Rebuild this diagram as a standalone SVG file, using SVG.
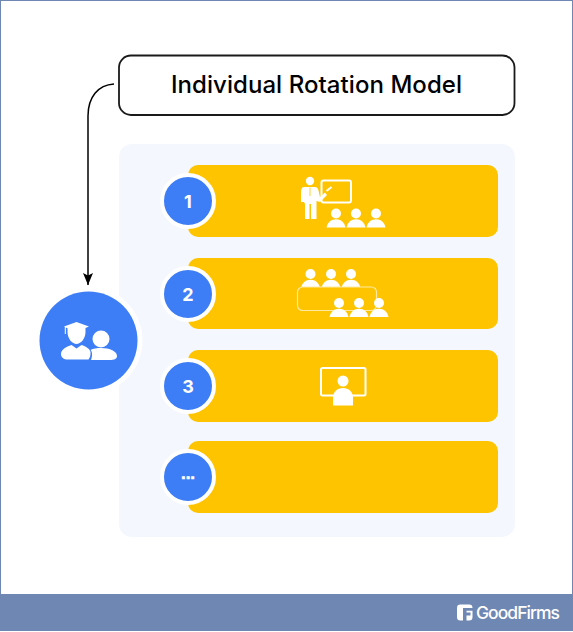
<svg xmlns="http://www.w3.org/2000/svg" width="573" height="632" viewBox="0 0 573 632">
<style>
.bar{fill:#ffc400}
.badge{fill:#3d7df5;stroke:#fff;stroke-width:4}
.num{font-family:"Inter","Liberation Sans",sans-serif;font-weight:700;font-size:18px;fill:#fff;text-anchor:middle}
.w{fill:#fff}
.line{fill:none;stroke:#fff;stroke-width:2}
</style>
<defs>
<marker id="arrow" markerWidth="12" markerHeight="12" refX="12" refY="5.500" orient="auto" markerUnits="userSpaceOnUse"><path d="M0 0.500L12 5.500L0 10.500L2.500 5.500Z" fill="#000"/></marker>
<g id="person"><circle cx="0" cy="-9" r="5" class="w"/><path class="w" d="M-9.500 5C-8.500 0 -5 -3.200 0 -3.200C5 -3.200 8.500 0 9.500 5Z"/></g>
</defs>
<rect x="0" y="0" width="573" height="632" fill="#fff"/>
<rect x="0.500" y="0.500" width="572" height="600" fill="#fff" stroke="#6f88b3"/>
<rect x="119" y="144" width="396" height="393" rx="13" fill="#f4f7fd"/>
<g id="footer"><rect x="0" y="594" width="573" height="37" fill="#6f88b3"/>
<path class="w" fill-rule="evenodd" d="M460.500 604.500H469C471.500 604.500 472.500 605.500 472.500 608V617C472.500 619.500 471.500 620.500 469 620.500H460.500C458 620.500 457 619.500 457 617V608C457 605.500 458 604.500 460.500 604.500ZM463 608V620.500H466.500V615.500H470.500V612.500H466.500V610.800H472.500V608Z"/>
<text x="476" y="618.500" font-family="Inter,'Liberation Sans',sans-serif" font-size="17.500" font-weight="500" fill="#fff" textLength="84">GoodFirms</text></g>
<g id="connectors"><path d="M114 84C98 85 88 97 88 116V285" fill="none" stroke="#000" stroke-width="1.500" marker-end="url(#arrow)"/></g>
<g id="title"><rect x="119" y="55.500" width="395.500" height="59.500" rx="12" fill="#fff" stroke="#1a1a1a" stroke-width="1.800"/>
<text x="171" y="92.500" font-family="Inter,'Liberation Sans',sans-serif" font-size="24" font-weight="500" fill="#000" textLength="291">Individual Rotation Model</text></g>
<g id="hub"><circle cx="88.500" cy="340.500" r="54" fill="#fff"/><circle cx="88.500" cy="340.500" r="49" fill="#3d7df5"/>
<circle class="w" cx="101" cy="339" r="8.500"/><path class="w" d="M91 360C92.500 356 92.500 352 90.500 350C93 348.500 97 348 101 348C110 348 117 351.500 117 356C117 359 114 360 110 360Z"/>
<path class="w" d="M76.500 322L89 326.500L85.500 328V332C85.500 339 80.500 344 76.500 344C72.500 344 67.500 339 67.500 332V328.300L65.800 327.500V334H64.800V327L64 326.500Z"/>
<path class="w" d="M61 354C61 350 66 346.500 71.500 345L76.500 348.500L81.500 345C86 346.500 90 349 90.500 352C90.800 355 90 357.500 88.500 359.500H68C63.500 359.500 61 357.500 61 354Z"/></g>
<g id="step1"><rect class="bar" x="188" y="165" width="310" height="72" rx="10"/><circle class="badge" cx="188" cy="201" r="26"/><text class="num" x="188" y="207.500">1</text>
<circle class="w" cx="310" cy="181" r="4.200"/><path class="w" d="M304 187H315C317 187 318 188.500 318.500 190.500L320 197L325 192.500L327 195L320 202L316.500 201V219H311V204H309.500V219H305V204L304 202H301V192C301 189 302 187 304 187Z"/>
<path d="M310 187.500V196" stroke="#ffc400" stroke-width="0.800"/>
<rect class="line" x="321.500" y="180.500" width="29.500" height="22" rx="2"/><path class="line" d="M326.500 191L331.500 187"/>
<use href="#person" x="336" y="222.500"/><use href="#person" x="356" y="222.500"/><use href="#person" x="376" y="222.500"/></g>
<g id="step2"><rect class="bar" x="188" y="258" width="310" height="71" rx="10"/><circle class="badge" cx="188" cy="294" r="26"/><text class="num" x="188" y="300.500">2</text>
<use href="#person" x="310.500" y="283"/><use href="#person" x="331" y="283"/><use href="#person" x="351" y="283"/>
<rect x="297.500" y="287" width="79" height="23.500" rx="5" fill="#ffc400" stroke="#ffe9a0" stroke-width="1.200"/>
<use href="#person" x="339" y="312"/><use href="#person" x="359" y="312"/><use href="#person" x="379" y="312"/></g>
<g id="step3"><rect class="bar" x="188" y="350" width="310" height="72" rx="10"/><circle class="badge" cx="188" cy="386" r="26"/><text class="num" x="188" y="392.500">3</text>
<path class="line" d="M334 395.500H322.500C321.500 395.500 321 395 321 394V369.500C321 368.500 321.500 368 322.500 368H364C365 368 365.500 368.500 365.500 369.500V394C365.500 395 365 395.500 364 395.500H352"/>
<circle class="w" cx="343" cy="381" r="5.500"/><path class="w" d="M333 405.500V398C333 392 337 388 343 388C349 388 353 392 353 398V405.500Z"/></g>
<g id="step4"><rect class="bar" x="188" y="441" width="310" height="72" rx="10"/><circle class="badge" cx="188" cy="477" r="26"/><text x="188" y="479" font-family="'Liberation Sans',sans-serif" font-weight="700" font-size="17" fill="#fff" text-anchor="middle" stroke="#fff" stroke-width="0.600">...</text></g>
</svg>
